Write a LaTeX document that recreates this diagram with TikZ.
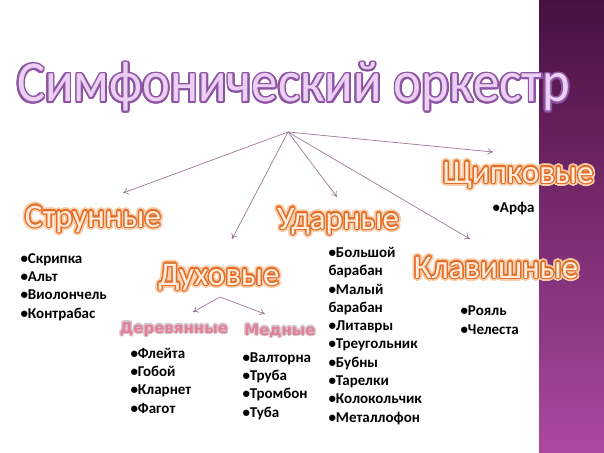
\documentclass[tikz,border=0pt]{standalone}
\usepackage{fontspec}
\setmainfont{Carlito}
\newfontfamily\titlefont[FakeStretch=0.91]{Carlito}
\newfontfamily\widefont{DejaVu Sans}
\usepackage{contour}
\usetikzlibrary{arrows.meta}
\contournumber{16}

\definecolor{titlefill}{RGB}{236,208,244}
\definecolor{titleline}{RGB}{140,84,162}
\definecolor{headfill}{RGB}{254,236,220}
\definecolor{headline}{RGB}{226,110,40}
\definecolor{headglow}{RGB}{250,205,170}
\definecolor{subfill}{RGB}{226,128,154}
\definecolor{subline}{RGB}{214,196,204}
\definecolor{arrowline}{RGB}{150,116,146}
\definecolor{bandtop}{RGB}{72,16,64}
\definecolor{bandbottom}{RGB}{172,72,162}

\newcommand{\titletext}[1]{{\contourlength{1.3pt}\contour{titleline}{\textcolor{titlefill}{#1}}}}
\newcommand{\headtext}[1]{\makebox[0pt][l]{\contourlength{2.4pt}\contour{headglow}{\textcolor{headglow}{#1}}}{\contourlength{1pt}\contour{headline}{\textcolor{headfill}{#1}}}}
\newcommand{\subtext}[1]{{\contourlength{0.8pt}\contour{subline}{\textcolor{subfill}{#1}}}}

\tikzset{every picture/.style={line width=0.75pt}}
\tikzset{
  titlestyle/.style={anchor=base, inner sep=0, font=\titlefont\fontsize{43.5}{50}\selectfont},
  group/.style={anchor=base, inner sep=0, font=\fontsize{24.75}{30}\selectfont},
  subgroup/.style={anchor=base, inner sep=0, font=\widefont\bfseries\fontsize{11.25}{14}\selectfont},
  items/.style={anchor=base west, inner sep=0, align=left, font=\bfseries\fontsize{11.25}{13.7}\selectfont},
  link/.style={draw=arrowline, line width=0.5pt, -{To[length=4pt,width=5pt]}}
}

\begin{document}
\begin{tikzpicture}[x=0.75pt,y=0.75pt,yscale=-1,xscale=1]
\useasboundingbox (0,0) rectangle (604,453);

%Shape: Rectangle
\fill [white] (0,0) rectangle (604,453);
%Shape: Rectangle
\shade [top color=bandtop, bottom color=bandbottom] (539,0) rectangle (604,453);

% Text Node
\draw (293.5,102) node [titlestyle] (title) {\titletext{Симфонический оркестр}};

% Text Node
\draw (93,227) node [group] (strings) {\headtext{Струнные}};
% Text Node
\draw (338,229) node [group] (drums) {\headtext{Ударные}};
% Text Node
\draw (518,183) node [group] (plucked) {\headtext{Щипковые}};
% Text Node
\draw (496,278) node [group] (keys) {\headtext{Клавишные}};
% Text Node
\draw (219,285) node [group] (winds) {\headtext{Духовые}};
% Text Node
\draw (174,333) node [subgroup] (wood) {\subtext{Деревянные}};
% Text Node
\draw (280,335) node [subgroup] (brass) {\subtext{Медные}};

%lists are placed by the baseline of their last line
% Text Node
\draw (20,318) node [items] (stringlist) {•Скрипка\\•Альт\\•Виолончель\\•Контрабас};
% Text Node
\draw (328,422) node [items] (drumlist) {•Большой\\барабан\\•Малый\\барабан\\•Литавры\\•Треугольник\\•Бубны\\•Тарелки\\•Колокольчик\\•Металлофон};
% Text Node
\draw (492,212) node [items] (pluckedlist) {•Арфа};
% Text Node
\draw (460,334) node [items] (keylist) {•Рояль\\•Челеста};
% Text Node
\draw (130,413) node [items] (woodlist) {•Флейта\\•Гобой\\•Кларнет\\•Фагот};
% Text Node
\draw (242,417) node [items] (brasslist) {•Валторна\\•Труба\\•Тромбон\\•Туба};

\coordinate (hub) at (288,132);
\coordinate (tostrings) at (123,193);
\coordinate (towinds) at (232,239);
\coordinate (todrums) at (337,197);
\coordinate (tokeys) at (470,239);
\coordinate (toplucked) at (493,152);
\coordinate (windhub) at (220,297);
\coordinate (towood) at (193,312);
\coordinate (tobrass) at (265,314);

%Straight Lines
\draw [link] (hub) -- (tostrings);
\draw [link] (hub) -- (towinds);
\draw [link] (hub) -- (todrums);
\draw [link] (hub) -- (tokeys);
\draw [link] (hub) -- (toplucked);
%Straight Lines
\draw [link] (windhub) -- (towood);
\draw [link] (windhub) -- (tobrass);

\end{tikzpicture}
\end{document}
